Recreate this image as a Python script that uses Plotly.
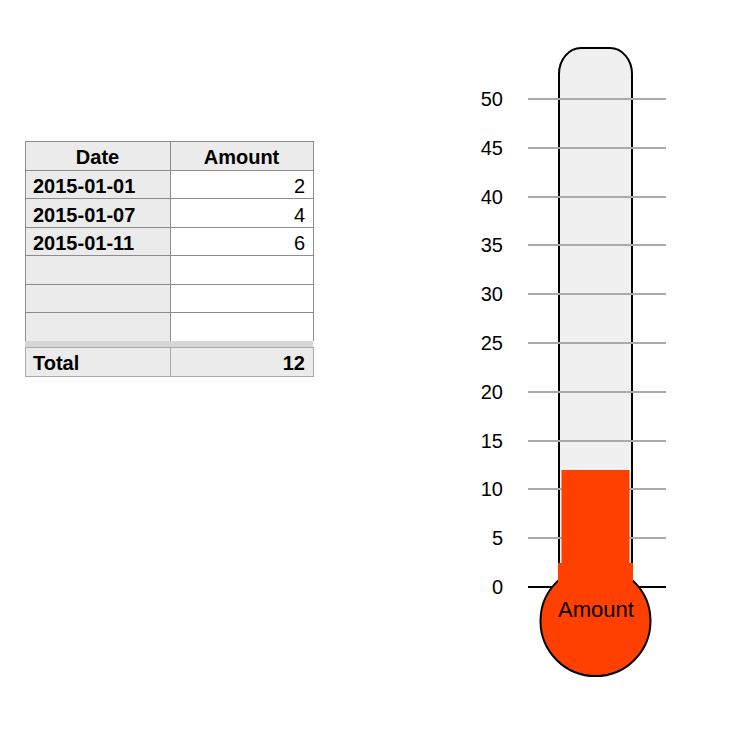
import plotly.graph_objects as go

# ---- data ----
dates = ["2015-01-01", "2015-01-07", "2015-01-11"]
amounts = [2, 4, 6]
total = sum(amounts)
series_name = "Amount"
tick_vals = [0, 5, 10, 15, 20, 25, 30, 35, 40, 45, 50]

OFF = 8  # page body margin
W, H = 742 - OFF, 750 - OFF
FONT = "Liberation Sans, Arial, Helvetica, sans-serif"
RED = "#ff4000"

def px(x):
    return (x - OFF) / W

def py(y):
    return 1 - (y - OFF) / H

n_blank = 3
date_col = list(dates) + [""] * n_blank
amt_col = [str(a) for a in amounts] + [""] * n_blank

fig = go.Figure()

# main table
fig.add_trace(go.Table(
    domain=dict(x=[px(25), px(313)], y=[py(341), py(141)]),
    columnwidth=[145, 143],
    header=dict(values=["Date", "Amount"], align="center",
                fill_color="#ebebeb", line=dict(color="#8c8c8c", width=1),
                font=dict(family=FONT, size=20, color="black", weight="bold"), height=29),
    cells=dict(values=[date_col, amt_col], align=["left", "right"],
               fill_color=[["#ebebeb"] * len(date_col), ["white"] * len(amt_col)],
               line=dict(color="#8c8c8c", width=1),
               font=dict(family=FONT, size=20, color="black", weight=["bold", "normal"]),
               height=28.5),
))

# total row
fig.add_trace(go.Table(
    domain=dict(x=[px(25), px(313.5)], y=[py(379), py(347)]),
    columnwidth=[145, 143],
    header=dict(values=["Total", str(total)], align=["left", "right"],
                fill_color="#ebebeb", line=dict(color="#a8a8a8", width=1),
                font=dict(family=FONT, size=20, color="black", weight="bold"), height=29),
    cells=dict(values=[[], []]),
))

# thermometer bar
fig.add_trace(go.Bar(x=[0], y=[total], width=68, marker=dict(color=RED, line=dict(width=0)),
                     hoverinfo="skip", showlegend=False))

PPU = 650 / (56.05 + 10.55)  # pixels per y unit
top = (587 - 48) / PPU
bot = (587 - 563) / PPU
rx = 22
ry = 26 / PPU
k = 0.552
xl, xr = -36.5, 36.5
tube_path = (
    f"M {xl},{bot} L {xl},{top-ry} "
    f"C {xl},{top-ry+k*ry} {xl+rx-k*rx},{top} {xl+rx},{top} "
    f"L {xr-rx},{top} "
    f"C {xr-rx+k*rx},{top} {xr},{top-ry+k*ry} {xr},{top-ry} "
    f"L {xr},{bot}"
)
bc = (587 - 621) / PPU
br = 55 / PPU
shapes = [
    dict(type="path", path=tube_path, xref="x", yref="y", layer="below",
         fillcolor="#f0f0f0", line=dict(color="black", width=2)),
    dict(type="circle", xref="x", yref="y", x0=-55, x1=55, y0=bc - br, y1=bc + br,
         layer="above", fillcolor=RED, line=dict(color="black", width=2)),
    dict(type="rect", xref="x", yref="y", x0=-37.5, x1=37.5, y0=bc, y1=bot,
         layer="above", fillcolor=RED, line=dict(width=0)),
    dict(type="rect", xref="paper", yref="paper", x0=px(25), x1=px(313), y0=py(347), y1=py(341),
         fillcolor="#d6d6d6", line=dict(width=0)),
]

fig.update_layout(
    width=W, height=H,
    margin=dict(l=0, r=0, t=0, b=0),
    paper_bgcolor="white", plot_bgcolor="white",
    showlegend=False, hovermode=False,
    font=dict(family=FONT, color="black"),
    shapes=shapes,
    annotations=[dict(x=0, y=(587 - 609) / PPU, xref="x", yref="y", text=series_name,
                      showarrow=False, font=dict(family=FONT, size=22, color="black"))],
    xaxis=dict(domain=[px(528), px(666)], range=[-67.5, 70.5], visible=False, fixedrange=True),
    yaxis=dict(domain=[py(690), py(40)], range=[-10.55, 56.05], tickvals=tick_vals,
               showgrid=True, gridcolor="#aaaaaa", gridwidth=2,
               zeroline=True, zerolinecolor="black", zerolinewidth=2,
               showline=False, ticks="", ticklabelstandoff=24,
               tickfont=dict(family=FONT, size=20, color="black"), fixedrange=True),
)

fig.write_html("out.html")
